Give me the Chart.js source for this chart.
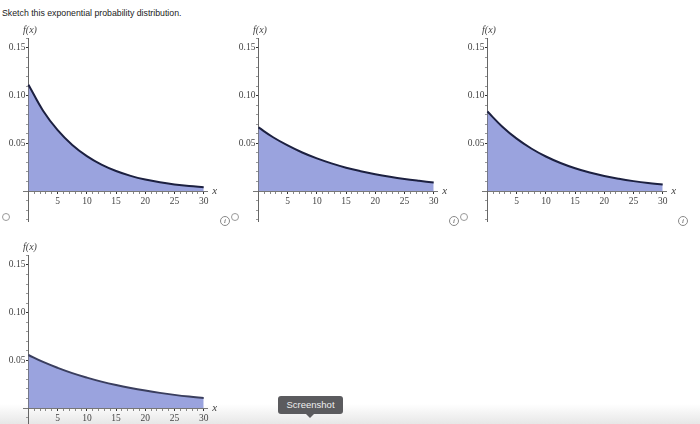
<!DOCTYPE html>
<html>
<head>
    <meta charset="UTF-8">
    <title>Exponential probability distribution</title>
    <script src="https://cdn.jsdelivr.net/npm/chart.js@4"></script>
    <style>
        html, body { margin: 0; padding: 0; background: #fff; overflow: hidden; width: 700px; height: 424px; }
        canvas { position: absolute; }
        #title { position: absolute; left: 2px; top: 7.5px; font: 8.75px "Liberation Sans", Arial, sans-serif; color: #222; white-space: nowrap; }
        .radio { position: absolute; top: 213px; width: 6px; height: 6px; border: 1px solid #999; border-radius: 50%; background: #fff; }
        .info { position: absolute; top: 216px; width: 8px; height: 8px; border: 1px solid #888; border-radius: 50%; font: italic 7px/8px "Liberation Serif", serif; text-align: center; color: #444; }
        #shade { position: absolute; left: 0; top: 404px; width: 700px; height: 20px; background: linear-gradient(rgba(232,232,232,0), rgba(225,225,225,0.8)); }
        #tip { position: absolute; left: 278px; top: 396px; width: 65px; height: 18px; background: #5b5b5e; border-radius: 3px; color: #eee; font: 9.5px/18px "Liberation Sans", Arial, sans-serif; text-align: center; }
        #tip:after { content: ""; position: absolute; left: 28px; top: 18px; border: 4px solid transparent; border-top-color: #5b5b5e; border-bottom: 0; }
    </style>
</head>
<body>
    <div id="shade"></div>
    <div id="title">Sketch this exponential probability distribution.</div>
    <canvas id="c1" width="229" height="220" style="left:0;top:18.5px"></canvas>
    <canvas id="c2" width="229" height="220" style="left:229.5px;top:18.5px"></canvas>
    <canvas id="c3" width="229" height="220" style="left:458.5px;top:18.5px"></canvas>
    <canvas id="c4" width="229" height="220" style="left:0;top:235.5px"></canvas>
    <div class="radio" style="left:2px"></div>
    <div class="radio" style="left:231px"></div>
    <div class="radio" style="left:460px"></div>
    <div class="info" style="left:220px">i</div>
    <div class="info" style="left:449px">i</div>
    <div class="info" style="left:678px">i</div>
    <div id="tip">Screenshot</div>
    <script>
        const xValues = [0, 2.5, 5, 7.5, 10, 12.5, 15, 17.5, 20, 22.5, 25, 27.5, 30];
        const curveA = [0.1115, 0.0842, 0.0638, 0.0483, 0.0366, 0.0277, 0.0210, 0.0159, 0.0120, 0.0091, 0.0069, 0.0052, 0.0040];
        const curveB = [0.0667, 0.0564, 0.0478, 0.0404, 0.0342, 0.0290, 0.0245, 0.0208, 0.0176, 0.0149, 0.0126, 0.0107, 0.0090];
        const curveC = [0.0833, 0.0677, 0.0549, 0.0446, 0.0362, 0.0294, 0.0239, 0.0194, 0.0157, 0.0128, 0.0104, 0.0084, 0.0068];
        const curveD = [0.0556, 0.0483, 0.0421, 0.0366, 0.0319, 0.0277, 0.0241, 0.0210, 0.0183, 0.0159, 0.0138, 0.0120, 0.0105];
        const xTicks = [1, 2, 3, 4, 5, 6, 7, 8, 9, 10, 11, 12, 13, 14, 15, 16, 17, 18, 19, 20, 21, 22, 23, 24, 25, 26, 27, 28, 29, 30];
        const xLabels = [5, 10, 15, 20, 25, 30];
        const yTicks = [-0.03, -0.02, -0.01, 0.01, 0.02, 0.03, 0.04, 0.05, 0.06, 0.07, 0.08, 0.09, 0.10, 0.11, 0.12, 0.13, 0.14, 0.15, 0.16];
        const yLabels = [0.05, 0.10, 0.15];

        const tickFont = { family: '"Liberation Serif", serif', size: 9.5 };

        // f(x), x and the y labels are written here: a centred y axis ignores tick padding
        const axisNames = {
            id: 'axisNames',
            afterDraw(chart) {
                const ctx = chart.ctx;
                const xPos = chart.scales.x;
                const yPos = chart.scales.y;
                ctx.save();
                ctx.fillStyle = '#444';
                ctx.font = 'italic 10px "Liberation Serif", serif';
                ctx.textAlign = 'center';
                ctx.fillText('f(x)', xPos.getPixelForValue(0) + 1.5, yPos.top - 5);
                ctx.font = 'italic 11px "Liberation Serif", serif';
                ctx.fillText('x', xPos.getPixelForValue(30) + 11, yPos.getPixelForValue(0) + 3);
                ctx.font = '9.5px "Liberation Serif", serif';
                ctx.textAlign = 'right';
                ctx.textBaseline = 'middle';
                yLabels.forEach(v => {
                    ctx.fillText(v.toFixed(2), xPos.getPixelForValue(0) - 3, yPos.getPixelForValue(v));
                });
                ctx.restore();
            }
        };

        const drawPanel = (id, values, lineColor) => {
            new Chart(document.getElementById(id), {
                type: 'line',
                data: {
                    datasets: [{
                        data: xValues.map((x, i) => ({ x: x, y: values[i] })),
                        borderColor: lineColor,
                        borderWidth: 2,
                        backgroundColor: '#9aa3de',
                        fill: 'origin',
                        pointRadius: 0,
                        tension: 0.4
                    }]
                },
                plugins: [axisNames],
                options: {
                    responsive: false,
                    animation: false,
                    layout: { padding: { left: 23.8, right: 21.8, top: 19, bottom: 18 } },
                    plugins: { legend: { display: false }, tooltip: { enabled: false } },
                    scales: {
                        x: {
                            type: 'linear',
                            position: { y: 0 },
                            min: -0.8,
                            max: 30.6,
                            afterBuildTicks: (axis) => { axis.ticks = xTicks.map(v => ({ value: v })); },
                            border: { color: '#777', width: 1 },
                            grid: {
                                drawOnChartArea: false,
                                tickLength: 2,
                                tickColor: (c) => xLabels.includes(c.tick.value) ? '#333' : '#888'
                            },
                            ticks: {
                                autoSkip: false,
                                maxRotation: 0,
                                padding: 3,
                                color: '#444',
                                font: tickFont,
                                callback: (v) => xLabels.includes(v) ? String(v) : ''
                            }
                        },
                        y: {
                            type: 'linear',
                            position: { x: 0 },
                            min: -0.0314,
                            max: 0.1604,
                            afterBuildTicks: (axis) => { axis.ticks = yTicks.map(v => ({ value: v })); },
                            border: { color: '#666', width: 1 },
                            grid: {
                                drawOnChartArea: false,
                                tickLength: 2,
                                tickColor: (c) => yLabels.includes(c.tick.value) ? '#333' : '#999'
                            },
                            ticks: { display: false }
                        }
                    }
                }
            });
        };

        drawPanel('c1', curveA, '#1c2040');
        drawPanel('c2', curveB, '#1c2040');
        drawPanel('c3', curveC, '#1c2040');
        drawPanel('c4', curveD, '#3a3e5e');
    </script>
</body>
</html>
